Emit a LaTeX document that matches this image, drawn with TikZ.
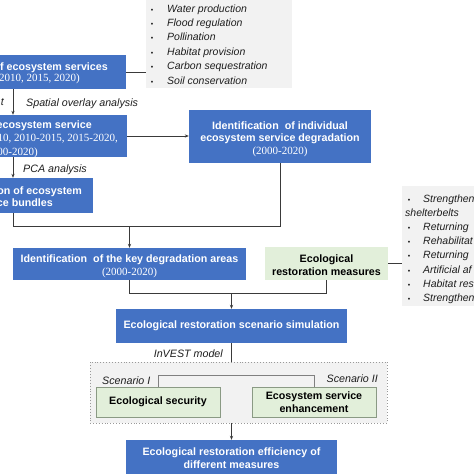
\documentclass[tikz,border=0pt]{standalone}
\usepackage{fontspec}
\setmainfont{Liberation Sans}
\newfontfamily\numfont{Liberation Serif}
\usetikzlibrary{arrows.meta}
\definecolor{boxblue}{HTML}{4472C4}
\definecolor{boxgreen}{HTML}{E2EFDA}
\definecolor{greenline}{HTML}{8A9A84}
\definecolor{listgray}{HTML}{F2F2F2}
\definecolor{linegray}{HTML}{3A3A3A}
\definecolor{txtdark}{HTML}{1E1E1E}
\tikzset{
  every node/.style={font=\fontsize{10.7}{12.8}\selectfont, inner sep=0pt},
  bbox/.style={fill=boxblue, draw=none},
  wtxt/.style={text=white, font=\fontsize{10.7}{12.8}\selectfont\bfseries},
  ntxt/.style={text=white, font=\fontsize{11}{12.8}\selectfont\numfont},
  gbox/.style={fill=boxgreen, draw=greenline, line width=0.8pt},
  gtxt/.style={text=black, font=\fontsize{10.7}{12.8}\selectfont\bfseries, align=center},
  lbl/.style={text=txtdark, font=\fontsize{10.7}{12.8}\selectfont\itshape},
  item/.style={text=txtdark, font=\fontsize{10.5}{12.8}\selectfont\itshape, anchor=base west},
  bul/.style={text=txtdark, font=\fontsize{7}{8}\selectfont, anchor=base},
  conn/.style={draw=linegray, line width=0.9pt},
  arr/.style={conn, -{Stealth[length=4pt,width=3.2pt]}},
}
\begin{document}
\begin{tikzpicture}[x=1pt,y=-1pt]
\useasboundingbox (0,0) rectangle (474,474);
\clip (0,0) rectangle (474,474);
\fill[white] (0,0) rectangle (474,474);

% ---- gray list boxes
\node[fill=listgray, minimum width=146pt, minimum height=98pt] (list1) at (219,39) {};
\foreach \y/\t in {12/Water production, 26.4/Flood regulation, 40.8/Pollination, 55.2/Habitat provision, 69.6/Carbon sequestration, 84/Soil conservation}{
  \node[bul] at (152,\y) {•};
  \node[item] at (167,\y) {\t};
}
\node[fill=listgray, minimum width=160pt, minimum height=120pt] (list2) at (482,246) {};
\node[bul] at (409,202) {•};
\node[item] at (423,202) {Strengthen};
\node[item] at (405,216.2) {shelterbelts};
\foreach \y/\t in {230.4/Returning, 244.6/Rehabilitat, 258.8/Returning, 273/Artificial af, 287.2/Habitat res, 301.4/Strengthen}{
  \node[bul] at (409,\y) {•};
  \node[item] at (423,\y) {\t};
}

% ---- box 1
\node[bbox, minimum width=226pt, minimum height=34pt] (b1) at (13,72) {};
\node[wtxt, anchor=base east] at (108,70) {f ecosystem services};
\node[ntxt, anchor=base east] at (80,81) {2010, 2015, 2020)};

% ---- box 2
\node[bbox, minimum width=228pt, minimum height=42pt] (b2) at (13,136) {};
\node[wtxt, anchor=base east] at (92,128) {ecosystem service};
\node[ntxt, anchor=base east] at (118,141) {10, 2010-2015, 2015-2020,};
\node[ntxt, anchor=base east] at (38,155) {00-2020)};

% ---- box 4
\node[bbox, minimum width=160pt, minimum height=35pt] (b4) at (13,195.5) {};
\node[wtxt, anchor=base east] at (82,194) {on of ecosystem};
\node[wtxt, anchor=base east] at (53,206) {ce bundles};

% ---- box 3
\node[bbox, minimum width=182pt, minimum height=53pt] (b3) at (280,136.5) {};
\node[wtxt, align=center] at (280,139) {Identification\ \ of individual\\ecosystem service degradation\\[-0.5pt]{\numfont\mdseries\fontsize{11}{12.8}\selectfont (2000-2020)}};

% ---- box 5
\node[bbox, minimum width=233pt, minimum height=32pt] (b5) at (129.5,264) {};
\node[wtxt, align=center] at (129.5,266) {Identification\ \ of the key degradation areas\\{\numfont\mdseries\fontsize{11}{12.8}\selectfont (2000-2020)}};

% ---- box 6 (green)
\node[fill=boxgreen, draw=none, minimum width=123pt, minimum height=33pt] (b6) at (326.5,263.5) {};
\node[gtxt] at (326.5,265) {Ecological\\restoration measures};

% ---- box 7
\node[bbox, wtxt, minimum width=231pt, minimum height=34pt] (b7) at (231.5,326) {Ecological restoration scenario simulation};

% ---- dashed box
\node[fill=listgray, draw=gray!80, dotted, line width=0.9pt, minimum width=297pt, minimum height=61pt] (dash) at (238.5,392.5) {};
\node[gbox, gtxt, minimum width=124pt, minimum height=30pt] (b8) at (158,402) {Ecological security};
\node[gbox, gtxt, minimum width=124pt, minimum height=30pt] (b9) at (314,402) {Ecosystem service\\enhancement};
\node[lbl, anchor=base west] (s1) at (102,384) {Scenario I};
\node[lbl, anchor=base east] (s2) at (378,382) {Scenario II};

% ---- box 10
\node[bbox, minimum width=211pt, minimum height=60pt] (b10) at (231.5,470) {};
\node[wtxt, align=center] at (231.5,458) {Ecological restoration efficiency of\\different measures};

% ---- labels
\node[lbl, anchor=base east] at (4,105) {t};
\node[lbl, anchor=base west] at (26,106) {Spatial overlay analysis};
\node[lbl, anchor=base west] at (23,172) {PCA analysis};
\node[lbl, anchor=base east] at (223,357) {InVEST model};

% ---- connectors
\coordinate (j1) at (129.5,226);
\coordinate (j2) at (231.5,293);
\draw[conn] (b1.east) -- (b1.east -| list1.west);
\draw[arr] (b1.south) -- (b2.north);
\draw[arr] (b2.south) -- (b4.north);
\draw[arr] (b2.east) -- (b2.east -| b3.west);
\draw[conn] (b4.south) |- (j1);
\draw[conn] (b3.south) |- (j1);
\draw[arr] (j1) -- (b5.north);
\draw[conn] (b5.south) |- (j2);
\draw[conn] (b6.south) |- (j2);
\draw[arr] (j2) -- (b7.north);
\draw[conn] (b6.east) -- (b6.east -| list2.west);
\draw[conn] (b7.south) -- (b7.south |- dash.north);
\draw[draw=gray, line width=0.7pt] (b8.north) -- ++(0,-11) -| (b9.north);
\draw[arr] (b10.north |- dash.south) -- (b10.north);
\end{tikzpicture}
\end{document}
